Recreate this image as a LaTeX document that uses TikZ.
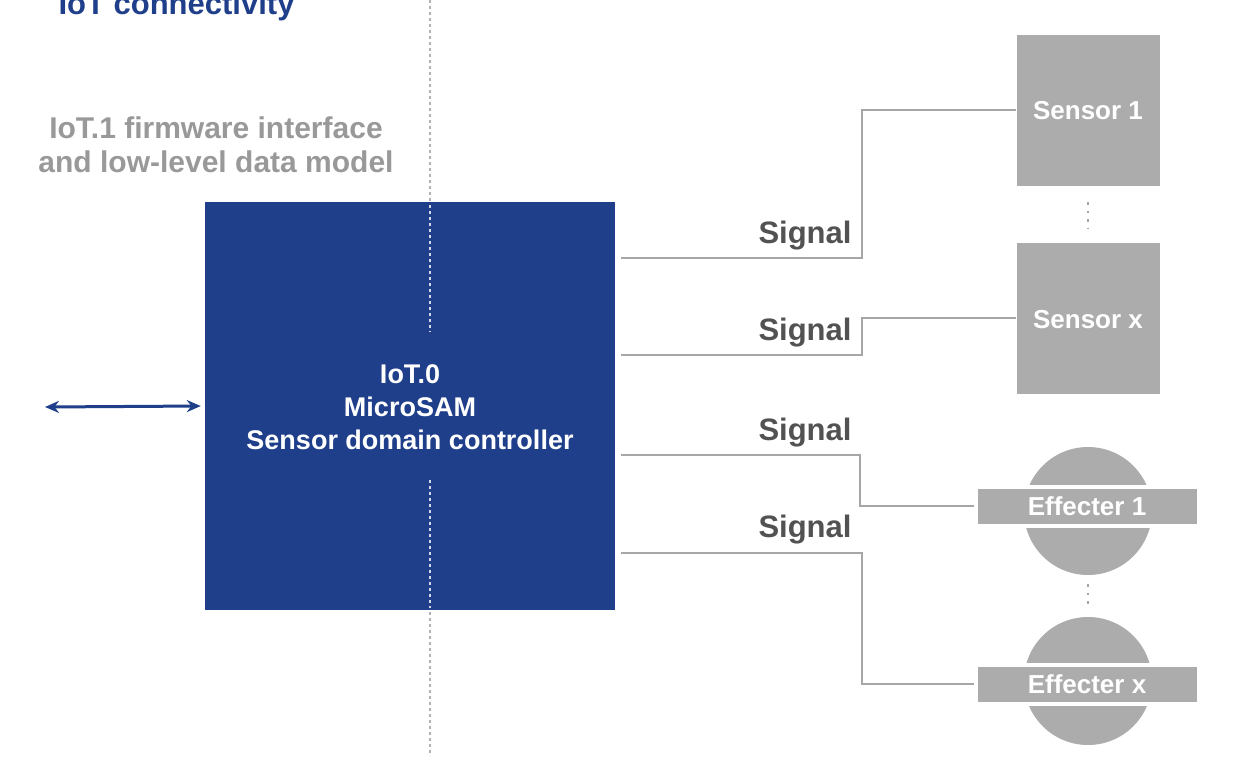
\documentclass[tikz,border=0pt]{standalone}
\usepackage{fontspec}
\setmainfont{Liberation Sans}
\usetikzlibrary{arrows.meta}
\begin{document}
\begin{tikzpicture}[x=1pt,y=-1pt,
  conn/.style={draw=gray!70,line width=2.2pt},
  graybox/.style={fill=gray!65,draw=none,text=white,font=\bfseries\fontsize{26}{30}\selectfont},
  sig/.style={text=gray!30!black!80,font=\bfseries\fontsize{31}{36}\selectfont},
  dots/.style={draw=gray!70,line width=2.5pt,dash pattern=on 2.5pt off 6pt}]
\definecolor{navy}{HTML}{1F3F8A}
\useasboundingbox (0,0) rectangle (1256,756);
\fill[white] (0,0) rectangle (1256,756);
\node[text=navy,font=\bfseries\fontsize{31}{36}\selectfont,anchor=base west] (title) at (55,14) {IoT connectivity};
\draw[gray!60,line width=1.5pt,dashed] (430,0) -- (430,756);
\node[text=gray!80,font=\bfseries\fontsize{30}{34}\selectfont,align=center] (fw) at (216,145) {IoT.1 firmware interface\\and low-level data model};
\node[fill=navy,minimum width=410pt,minimum height=408pt,inner sep=0] (ctrl) at (410,406) {};
\draw[white!80!navy,line width=1.5pt,dashed] (430,205) -- (430,332) (430,480) -- (430,608);
\node[text=white,font=\bfseries\fontsize{27}{33}\selectfont,align=center] (ctrltxt) at (410,407) {IoT.0\\MicroSAM\\Sensor domain controller};
\coordinate (aL) at (45,407);
\draw[navy,line width=3pt,<->,>={Stealth[length=14pt,width=12pt]}] (aL) -- ([xshift=-4pt]ctrl.west);
\node[graybox,minimum width=143pt,minimum height=151pt] (s1) at (1088,110) {};
\node[graybox,anchor=center] at (1088,111) {Sensor 1};
\node[graybox,minimum width=143pt,minimum height=151pt] (sx) at (1088,318) {};
\node[graybox] at (1088,320) {Sensor x};
\fill[gray!65] (1088,511) circle (64pt);
\node[graybox,minimum width=223pt,minimum height=39pt,draw=white,line width=4pt] (e1) at (1087,506) {Effecter 1};
\fill[gray!65] (1088,681) circle (64pt);
\node[graybox,minimum width=223pt,minimum height=39pt,draw=white,line width=4pt] (ex) at (1087,684) {Effecter x};
\draw[dots] (1088,202) -- (1088,228);
\draw[dots] (1088,584) -- (1088,606);
\draw[conn] ([xshift=6pt]ctrl.east|-0,258) -- (862,258) |- (s1.west|-0,110);
\draw[conn] ([xshift=6pt]ctrl.east|-0,355) -- (862,355) |- (sx.west|-0,318);
\draw[conn] ([xshift=6pt]ctrl.east|-0,455) -- (860,455) |- (e1.west);
\draw[conn] ([xshift=6pt]ctrl.east|-0,553) -- (862,553) |- (ex.west);
\node[sig] (l1) at (805,236) {Signal};
\node[sig] (l2) at (805,333) {Signal};
\node[sig] (l3) at (805,433) {Signal};
\node[sig] (l4) at (805,530) {Signal};
\end{tikzpicture}
\end{document}
